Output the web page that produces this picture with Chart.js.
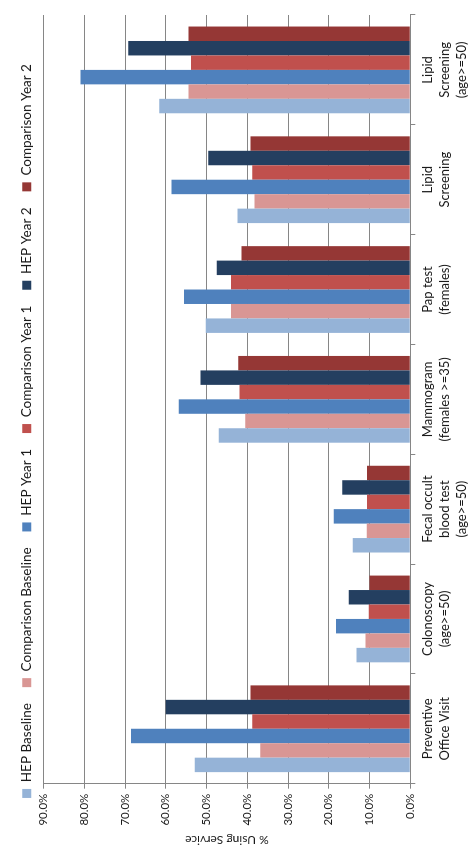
<!DOCTYPE html>
<html>
<head>
<meta charset="utf-8">
<script src="https://cdn.jsdelivr.net/npm/chart.js@4/dist/chart.umd.min.js"></script>
<style>
  html, body { margin: 0; padding: 0; background: #fff; overflow: hidden; }
  /* chart is drawn landscape, then turned a quarter left to fit the portrait page */
  #wrap {
    position: absolute; left: 0; top: 0;
    width: 862px; height: 474px;
    transform-origin: 0 0;
    transform: translate(0, 862px) rotate(-90deg);
  }
</style>
</head>
<body>
<div id="wrap"><canvas id="services" width="862" height="474"></canvas></div>
<script>
const categories = [
    ["Preventive", "Office Visit"],
    ["Colonoscopy", "(age>=50)"],
    ["Fecal occult", "blood test", "(age>=50)"],
    ["Mammogram", "(females >=35)"],
    ["Pap test", "(females)"],
    ["Lipid", "Screening"],
    ["Lipid", "Screening", "(age>=50)"],
];
const hepBaseline = [52.9, 13.2, 14.1, 47.0, 50.2, 42.4, 61.6];
const compBaseline = [36.8, 11.0, 10.7, 40.5, 44.0, 38.2, 54.4];
const hepYear1 = [68.5, 18.2, 18.8, 56.8, 55.5, 58.6, 80.9];
const compYear1 = [38.8, 10.2, 10.6, 41.9, 44.0, 38.8, 53.8];
const hepYear2 = [60.0, 15.1, 16.7, 51.5, 47.5, 49.6, 69.2];
const compYear2 = [39.2, 10.0, 10.6, 42.2, 41.4, 39.2, 54.4];

Chart.defaults.font.family = "Lato, 'Open Sans', sans-serif";
Chart.defaults.color = "#1a1a1a";

const ctx = document.getElementById("services").getContext("2d");
const chart = new Chart(ctx, {
    type: "bar",
    data: {
        labels: categories,
        datasets: [{
                label: "HEP Baseline",
                data: hepBaseline,
                backgroundColor: "#95b3d7",
            },
            {
                label: "Comparison Baseline",
                data: compBaseline,
                backgroundColor: "#d99694",
            },
            {
                label: "HEP Year 1",
                data: hepYear1,
                backgroundColor: "#4f81bd",
            },
            {
                label: "Comparison Year 1",
                data: compYear1,
                backgroundColor: "#c0504d",
            },
            {
                label: "HEP Year 2",
                data: hepYear2,
                backgroundColor: "#243f60",
            },
            {
                label: "Comparison Year 2",
                data: compYear2,
                backgroundColor: "#953735",
            },
        ],
    },
    options: {
        responsive: false,
        animation: false,
        devicePixelRatio: 1,
        datasets: {
            bar: {
                barPercentage: 1,
                categoryPercentage: 0.79,
                borderWidth: 0,
            },
        },
        layout: {
            padding: { left: 15, right: 15, top: 4, bottom: 0 },
        },
        scales: {
            x: {
                grid: {
                    display: true,
                    drawOnChartArea: false,
                    color: "#868686",
                    tickLength: 5,
                },
                border: { color: "#868686" },
                ticks: {
                    maxRotation: 0,
                    minRotation: 0,
                    padding: 4,
                    font: { size: 13, lineHeight: 1.3 },
                },
            },
            y: {
                min: 0,
                max: 90,
                grid: {
                    color: "#868686",
                    tickLength: 5,
                },
                border: { color: "#868686" },
                ticks: {
                    stepSize: 10,
                    padding: 5,
                    font: { size: 11.5 },
                    callback: (v) => v.toFixed(1) + "%",
                },
                title: {
                    display: true,
                    text: "% Using Service",
                    font: { size: 12 },
                    padding: { top: 0, bottom: 2 },
                },
            },
        },
        plugins: {
            legend: {
                position: "top",
                labels: {
                    boxWidth: 9,
                    boxHeight: 9,
                    padding: 16,
                    font: { size: 13.5 },
                },
            },
            tooltip: { enabled: false },
        },
    },
});
</script>
</body>
</html>
